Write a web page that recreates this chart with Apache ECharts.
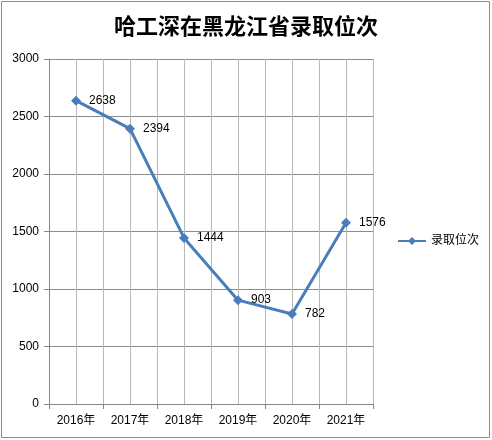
<!DOCTYPE html>
<html>
<head>
<meta charset="utf-8">
<script src="https://cdn.jsdelivr.net/npm/echarts@6/dist/echarts.min.js"></script>
<style>
  html, body { margin: 0; padding: 0; background: #fff; }
  #chart { width: 492px; height: 440px; }
</style>
</head>
<body>
<div id="chart"></div>
<script>
// 录取位次数据
const years = ['2016年', '2017年', '2018年', '2019年', '2020年', '2021年'];
const ranks = [2638, 2394, 1444, 903, 782, 1576];
const yTicks = [0, 500, 1000, 1500, 2000, 2500, 3000];
const halfSlots = ['a', 'b', 'c', 'd', 'e', 'f', 'g', 'h', 'i', 'j', 'k', 'l'];

const myChart = echarts.init(document.getElementById('chart'));
const font = '"Liberation Sans", "Noto Sans CJK SC", sans-serif';

myChart.setOption({
    animation: false,
    title: {
        text: '哈工深在黑龙江省录取位次',
        left: 'center',
        top: 10,
        textStyle: {
            fontFamily: '"Noto Sans CJK SC", serif',
            fontSize: 22,
            fontWeight: 'bold',
            color: '#000'
        }
    },
    graphic: [{
        type: 'rect',
        shape: { x: 1.5, y: 1.5, width: 488, height: 436 },
        style: { fill: 'none', stroke: '#8c8c8c', lineWidth: 1 },
        silent: true
    }],
    legend: {
        data: ['录取位次'],
        left: 392,
        top: 230,
        itemWidth: 28,
        itemHeight: 10,
        itemGap: 2,
        textStyle: { fontFamily: font, fontSize: 12, color: '#000' }
    },
    grid: { left: 49, top: 59, width: 324, height: 345, containLabel: false },
    xAxis: [{
        type: 'category',
        data: years,
        boundaryGap: true,
        axisLine: { lineStyle: { color: '#868686' } },
        axisTick: { show: true, alignWithLabel: false, length: 5, lineStyle: { color: '#868686' } },
        axisLabel: { fontFamily: font, fontSize: 12, color: '#000', margin: 11 },
        splitLine: { show: false }
    }, {
        type: 'category',
        data: halfSlots,
        position: 'bottom',
        boundaryGap: true,
        axisLine: { show: false },
        axisTick: { show: false },
        axisLabel: { show: false },
        splitLine: { show: true, interval: 0, lineStyle: { color: '#b8b8b8', width: 1 } }
    }],
    yAxis: {
        type: 'value',
        min: yTicks[0],
        max: yTicks[yTicks.length - 1],
        interval: 500,
        axisLine: { show: true, lineStyle: { color: '#868686' } },
        axisTick: { show: true, length: 5, lineStyle: { color: '#868686' } },
        axisLabel: {
            fontFamily: font, fontSize: 12, color: '#000', margin: 10,
            formatter: function (v) { return String(v); }
        },
        splitLine: { lineStyle: { color: '#8c8c8c', width: 1 } }
    },
    series: [{
        name: '录取位次',
        type: 'line',
        data: ranks,
        xAxisIndex: 0,
        symbol: 'diamond',
        symbolSize: 10,
        lineStyle: { color: '#4a7ebb', width: 3 },
        itemStyle: { color: '#4a7ebb' },
        label: {
            show: true,
            position: 'right',
            distance: 8,
            fontFamily: font,
            fontSize: 12,
            color: '#000'
        },
        z: 5
    }]
});
</script>
</body>
</html>
